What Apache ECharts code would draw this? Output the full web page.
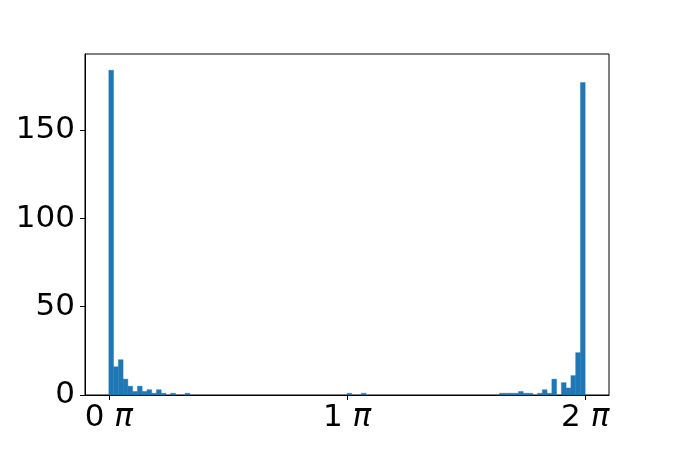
<!DOCTYPE html>
<html>
<head>
<meta charset="utf-8">
<script src="https://cdn.jsdelivr.net/npm/echarts@6/dist/echarts.min.js"></script>
<style>
html,body{margin:0;padding:0;background:#fff;}
#chart{width:677px;height:452px;}
</style>
</head>
<body>
<div id="chart"></div>
<script>
// Histogram counts: 100 bins spanning 0 .. 2π (x in units of π)
const counts = [
  184,16,20,9,5,2,5,2,3,1,3,1,0,1,0,0,1,0,
  0,0,0,0,0,0,0,0,0,0,0,0,0,0,0,0,0,0,0,0,0,0,0,0,0,0,0,0,0,0,0,0,
  1,0,0,1,
  0,0,0,0,0,0,0,0,0,0,0,0,0,0,0,0,0,0,0,0,0,0,0,0,0,0,0,0,
  1,1,1,1,2,1,1,0,1,3,1,9,0,7,4,11,24,177
];
const binStart = 0;      // in units of π
const binEnd = 2;        // in units of π
const xTicks = [0, 1, 2];
const xTickLabels = ['0', '1', '2'];
const yTicks = [0, 50, 100, 150];

const nBins = counts.length;
const w = (binEnd - binStart) / nBins;
const data = counts.map((c, i) => [binStart + i * w, binStart + (i + 1) * w, c]);

const chart = echarts.init(document.getElementById('chart'), null, {renderer: 'canvas'});
const font = 'DejaVu Sans';
const fs = 31;
chart.setOption({
  backgroundColor: '#fff',
  animation: false,
  grid: {left: 85, right: 68, top: 54, bottom: 57, show: true, borderColor: '#000', borderWidth: 1, backgroundColor: 'transparent'},
  xAxis: {
    type: 'value', min: -0.1, max: 2.1,
    splitLine: {show: false},
    axisLine: {show: true, onZero: false, lineStyle: {color: '#000', width: 1}},
    axisTick: {show: true, customValues: xTicks, length: 5, lineStyle: {color: '#000', width: 1}},
    axisLabel: {
      customValues: xTicks, margin: 7, color: '#000',
      formatter: function (v) {
        const idx = xTicks.indexOf(v);
        return '{n|' + xTickLabels[idx] + '} {p|π}';
      },
      rich: {
        n: {fontFamily: font, fontSize: fs, color: '#000'},
        p: {fontFamily: font, fontSize: fs, fontStyle: 'italic', color: '#000'}
      },
      fontFamily: font, fontSize: fs
    }
  },
  yAxis: {
    type: 'value', min: 0, max: 193.2,
    splitLine: {show: false},
    axisLine: {show: true, onZero: false, lineStyle: {color: '#000', width: 1}},
    axisTick: {show: true, customValues: yTicks, length: 5, lineStyle: {color: '#000', width: 1}},
    axisLabel: {customValues: yTicks, margin: 10, color: '#000', fontFamily: font, fontSize: fs}
  },
  series: [{
    type: 'custom',
    data: data,
    encode: {x: [0, 1], y: 2},
    z: 1,
    renderItem: function (params, api) {
      if (!api.value(2)) return null;
      const p0 = api.coord([api.value(0), 0]);
      const p1 = api.coord([api.value(1), api.value(2)]);
      return {
        type: 'rect',
        shape: {x: p0[0], y: p1[1], width: p1[0] - p0[0], height: p0[1] - p1[1]},
        style: {fill: '#1f77b4', stroke: '#1f77b4', lineWidth: 0.4}
      };
    }
  }]
});
</script>
</body>
</html>
